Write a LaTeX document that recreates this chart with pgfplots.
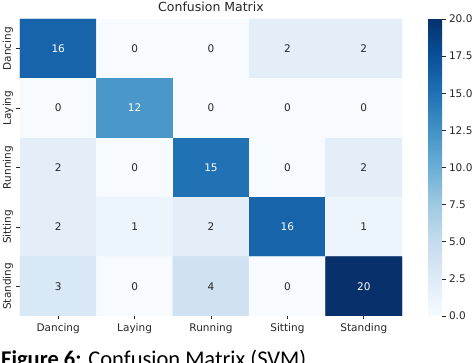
\documentclass[border=0pt]{standalone}
\usepackage{pgfplots}
\usepackage{pgfplotstable}
\pgfplotsset{compat=1.18}
\usepackage{fontspec}
\setmainfont{DejaVu Sans}
\newfontfamily\capfont{Carlito}
\definecolor{txt}{RGB}{38,38,38}

\pgfplotstableread{
x y C
0 0 16
1 0 0
2 0 0
3 0 2
4 0 2
0 1 0
1 1 12
2 1 0
3 1 0
4 1 0
0 2 2
1 2 0
2 2 15
3 2 0
4 2 2
0 3 2
1 3 1
2 3 2
3 3 16
4 3 1
0 4 3
1 4 0
2 4 4
3 4 0
4 4 20
}\cm

\begin{document}
\begin{tikzpicture}
\begin{axis}[
  at={(0,0)}, anchor=south west,
  scale only axis, width=382pt, height=297pt,
  xmin=-0.5, xmax=4.5, ymin=-0.5, ymax=4.5, y dir=reverse,
  xtick={0,...,4}, ytick={0,...,4},
  xticklabels={Dancing,Laying,Running,Sitting,Standing},
  yticklabels={Dancing,Laying,Running,Sitting,Standing},
  yticklabel style={rotate=90, anchor=south},
  tick label style={font=\fontsize{10.5}{12}\selectfont, text=txt},
  title={Confusion Matrix},
  title style={font=\fontsize{12.5}{14}\selectfont, text=txt, yshift=-2pt},
  axis line style={draw=none},
  tick align=outside, major tick length=3.5pt, tick style={txt, line width=0.7pt},
  xtick pos=bottom, ytick pos=left,
  colormap={blues}{rgb255=(247,251,255) rgb255=(222,235,247) rgb255=(198,219,239) rgb255=(158,202,225) rgb255=(107,174,214) rgb255=(66,146,198) rgb255=(33,113,181) rgb255=(8,81,156) rgb255=(8,48,107)},
  point meta min=0, point meta max=20,
  colorbar,
  colorbar style={
    at={(parent axis.north east)}, anchor=north west, xshift=17.5pt,
    scale only axis, width=14pt, height=297pt,
    ytick={0,2.5,...,20},
    yticklabel style={/pgf/number format/fixed, /pgf/number format/fixed zerofill, /pgf/number format/precision=1, /pgf/number format/assume math mode=true, font=\fontsize{10.5}{12}\selectfont, text=txt},
    axis line style={draw=none},
    tick align=outside, major tick length=3.5pt, tick style={txt, line width=0.7pt},
    ytick pos=right,
  },
]
\addplot[matrix plot*, mesh/cols=5, point meta=explicit, draw=none] table[x=x, y=y, meta=C] {\cm};
\addplot[only marks, mark=*, mark size=0pt, mark options={draw=none, fill=none},
  point meta=explicit symbolic, nodes near coords,
  restrict expr to domain={\thisrow{C}}{-1:10},
  every node near coord/.append style={anchor=center, font=\fontsize{10.5}{12}\selectfont, text=txt}]
  table[x=x, y=y, meta=C] {\cm};
\addplot[only marks, mark=*, mark size=0pt, mark options={draw=none, fill=none},
  point meta=explicit symbolic, nodes near coords,
  restrict expr to domain={\thisrow{C}}{11:100},
  every node near coord/.append style={anchor=center, font=\fontsize{10.5}{12}\selectfont, text=white}]
  table[x=x, y=y, meta=C] {\cm};
\end{axis}
\node[anchor=base west, inner sep=0pt, font=\capfont\fontsize{22.5}{26}\selectfont, text=black] at (-19pt,-51pt) {\textbf{Figure 6:} Confusion Matrix (SVM)};
\pgfresetboundingbox
\useasboundingbox (-20pt,-47pt) rectangle (454pt,316pt);
\end{tikzpicture}
\end{document}
